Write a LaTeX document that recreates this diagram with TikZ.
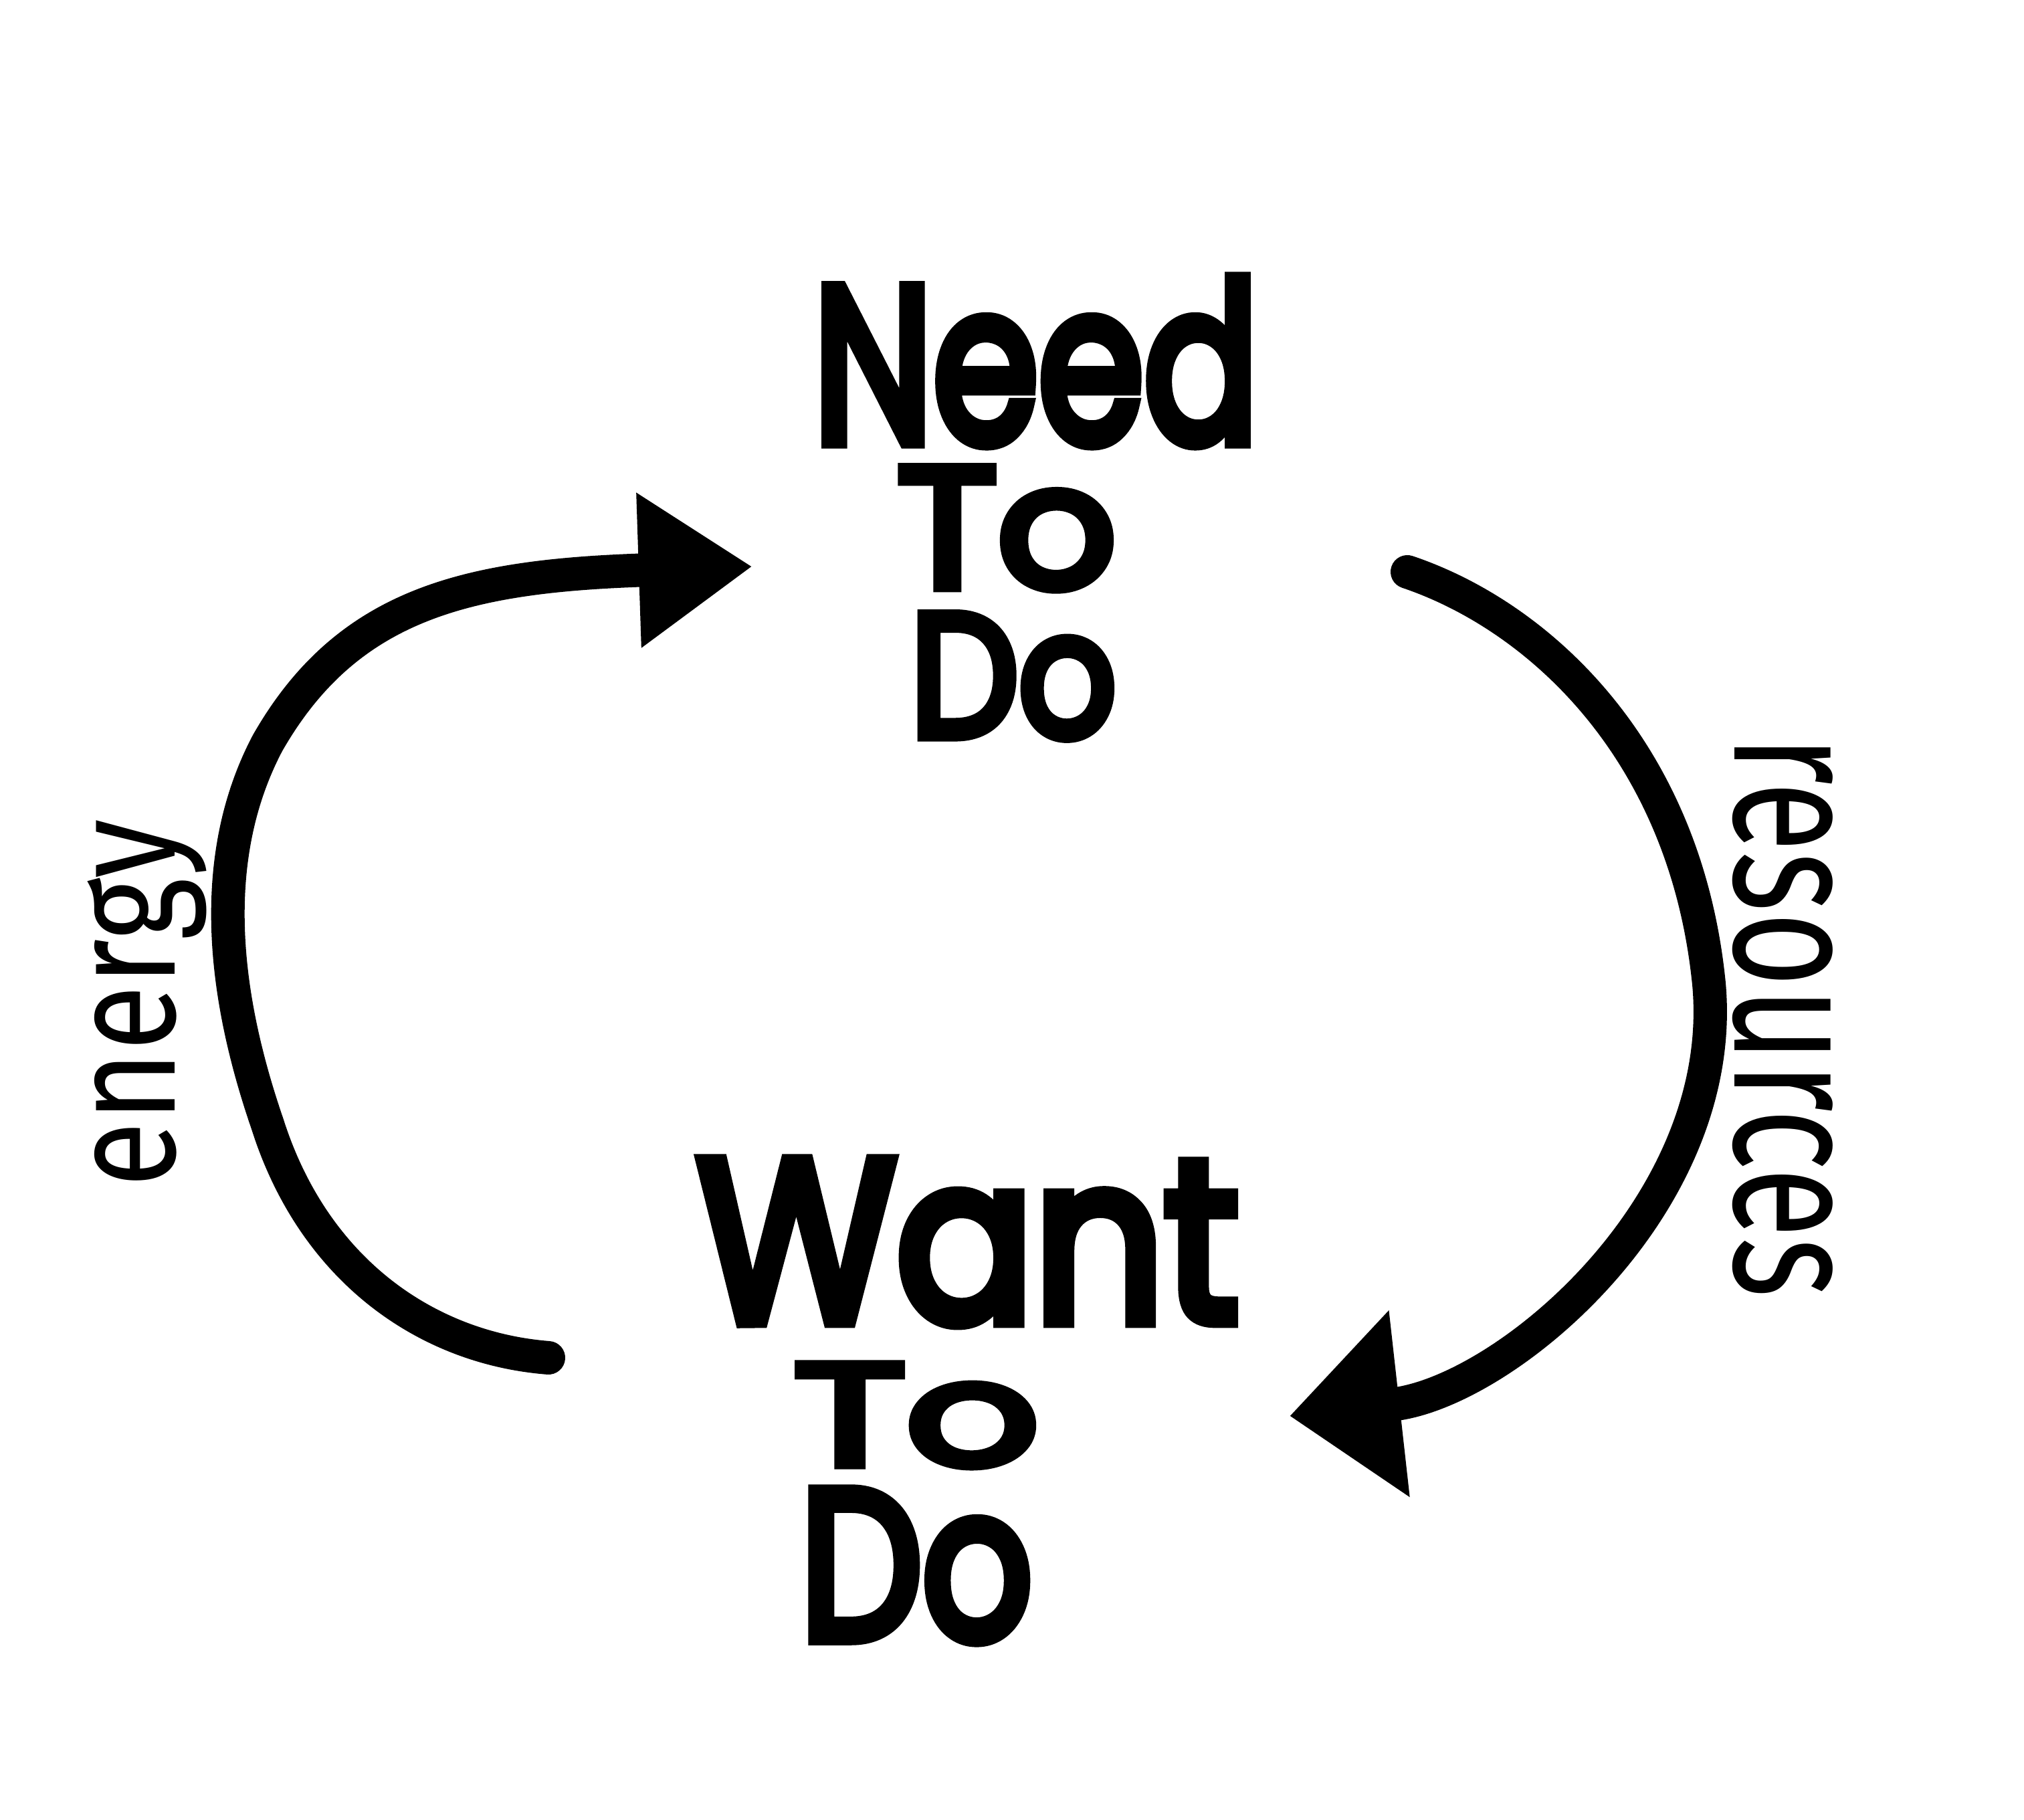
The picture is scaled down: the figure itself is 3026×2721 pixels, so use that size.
\documentclass[tikz,border=0pt]{standalone}
\usepackage{fontspec}
\usepackage{graphicx}
\usetikzlibrary{arrows.meta}
\newfontfamily\handfont{Poppins}[FakeBold=6]
\newfontfamily\labelfont{Fira Sans}
\tikzset{
  word/.style={inner sep=0pt, outer sep=0pt, font=\handfont},
  lab/.style={inner sep=0pt, outer sep=0pt, font=\labelfont},
  arc/.style={line width=0.5cm, line cap=round, line join=round}
}
\begin{document}
\begin{tikzpicture}[x=0.01cm,y=0.01cm]
\useasboundingbox (0,0) rectangle (3026,2721);
\fill[white] (0,0) rectangle (3026,2721);
% words
\node[word] (need) at (1549,2181) {\resizebox*{6.65cm}{2.47cm}{Need}};
\node[word] (needto) at (1505,1931) {\resizebox*{3.27cm}{1.8cm}{To}};
\node[word] (needdo) at (1515,1710) {\resizebox*{3.08cm}{1.84cm}{Do}};
\node[word] (want) at (1447,864) {\resizebox*{8.09cm}{2.42cm}{Want}};
\node[word] (wantto) at (1370,605) {\resizebox*{3.66cm}{1.52cm}{To}};
\node[word] (wantdo) at (1370,380) {\resizebox*{3.47cm}{2.24cm}{Do}};
% labels
\node[lab, rotate=90] (energy) at (220,1221) {\resizebox*{5.5cm}{1.78cm}{energy}};
\node[lab, rotate=-90] (resources) at (2665,1201) {\resizebox*{8.4cm}{1.5cm}{resources}};
% connector ends
\coordinate (lstart) at (820,691);
\coordinate (lend) at (1125,1874);
\coordinate (rstart) at (2104,1866);
\coordinate (rend) at (1928,604);
% left arc: want -> need
\draw[arc, -{Triangle[length=1.7cm, width=2.2cm]}]
  (lstart) .. controls (640,705) and (470,820) .. (400,1040)
           .. controls (345,1200) and (300,1420) .. (400,1610)
           .. controls (520,1820) and (700,1860) .. (lend);
% right arc: need -> want
\draw[arc, -{Triangle[length=1.65cm, width=2.7cm]}]
  (rstart) .. controls (2300,1800) and (2520,1600) .. (2555,1250)
           .. controls (2585,920) and (2250,640) .. (rend);
\end{tikzpicture}
\end{document}
